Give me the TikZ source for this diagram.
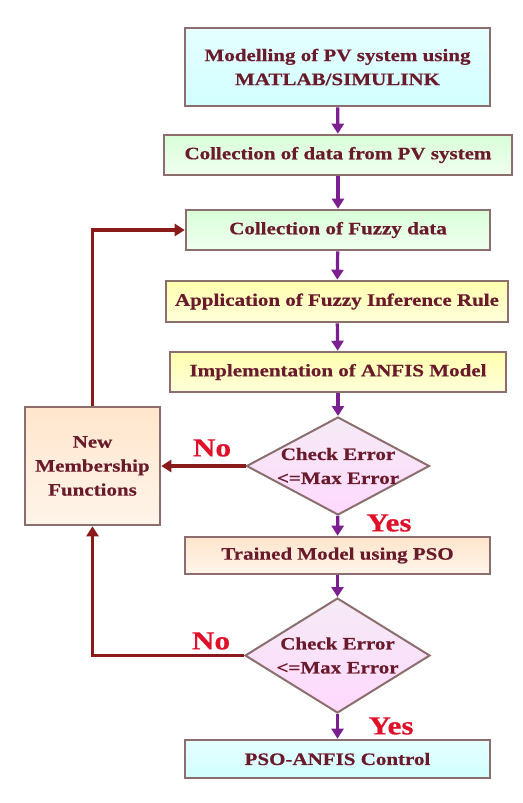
\documentclass[tikz,border=0pt]{standalone}
\usepackage{fontspec}
\newfontfamily\dfont{Liberation Serif}[FakeStretch=1.2, BoldFeatures={FakeBold=0.5}]
\usetikzlibrary{shapes.geometric,arrows.meta}
\definecolor{txt}{HTML}{6A1A2A}
\definecolor{bord}{HTML}{8C6E6E}
\definecolor{flowc}{HTML}{7B2090}
\definecolor{loopc}{HTML}{8B1A1A}
\definecolor{lblred}{HTML}{E0102A}
\tikzset{
  box/.style={draw=bord, line width=2.6pt, inner sep=0pt, text=txt, align=center},
  cyanbox/.style={box, top color=cyan!10!white, bottom color=cyan!18!white},
  greenbox/.style={box, top color=green!15!white, bottom color=green!6!white},
  yellowbox/.style={box, top color=yellow!32!white, bottom color=yellow!14!white},
  peachbox/.style={box, top color=orange!20!white, bottom color=orange!8!white},
  decision/.style={diamond, draw=bord, line width=2pt, inner sep=0pt, aspect=1.8,
     top color=violet!8!white, bottom color=magenta!15!white},
  dtext/.style={text=txt, align=center, inner sep=0pt},
  flow/.style={draw=flowc, line width=3.2pt, -{Triangle[width=12pt,length=10pt]}},
  back/.style={draw=loopc, line width=3.2pt, -{Triangle[width=12pt,length=10pt]}},
  yn/.style={text=lblred, inner sep=0pt, font=\fontsize{26}{28}\selectfont\dfont\bfseries},
}
\begin{document}
\begin{tikzpicture}[x=1pt,y=-1pt, font=\fontsize{17.5}{24}\selectfont\dfont\bfseries]
\useasboundingbox (0,0) rectangle (522,803);
\node[cyanbox, minimum width=305pt, minimum height=78pt] (b1) at (337.5,67)
  {Modelling of PV system using\\MATLAB/SIMULINK};
\node[greenbox, minimum width=348pt, minimum height=40pt] (b2) at (338,155)
  {Collection of data from PV system};
\node[greenbox, minimum width=304pt, minimum height=40pt] (b3) at (338,230)
  {Collection of Fuzzy data};
\node[yellowbox, minimum width=342pt, minimum height=41pt] (b4) at (337,301.5)
  {Application of Fuzzy Inference Rule};
\node[yellowbox, minimum width=336pt, minimum height=40pt] (b5) at (338,372)
  {Implementation of ANFIS Model};
\node[decision, minimum width=183pt, minimum height=98pt,
  label={[dtext]center:{Check Error\\<=Max Error}}] (d1) at (338,466) {};
\node[peachbox, minimum width=305pt, minimum height=37pt] (b7) at (337.5,555.5)
  {Trained Model using PSO};
\node[decision, minimum width=185pt, minimum height=115pt,
  label={[dtext]center:{Check Error\\<=Max Error}}] (d2) at (337.5,655.5) {};
\node[cyanbox, minimum width=305pt, minimum height=38pt] (b9) at (337.5,759)
  {PSO-ANFIS Control};
\node[peachbox, minimum width=135pt, minimum height=118pt] (nm) at (92.5,466)
  {New\\Membership\\Functions};

\draw[flow] (b1) -- (b2);
\draw[flow] (b2) -- (b3);
\draw[flow] (b3) -- (b4);
\draw[flow] (b4) -- (b5);
\draw[flow] (b5) -- (d1);
\draw[flow] (d1) -- (b7);
\draw[flow] (b7) -- (d2);
\draw[flow] (d2) -- (b9);

\draw[back] (d1.west) -- (nm.east);
\draw[back] (d2.west) -| (nm.south);
\draw[back] (nm.north) |- (b3.west);

\node[yn] (no1) at (212,448) {No};
\node[yn] (no2) at (211,641) {No};
\node[yn] (yes1) at (389,523) {Yes};
\node[yn] (yes2) at (391,726) {Yes};
\end{tikzpicture}
\end{document}
